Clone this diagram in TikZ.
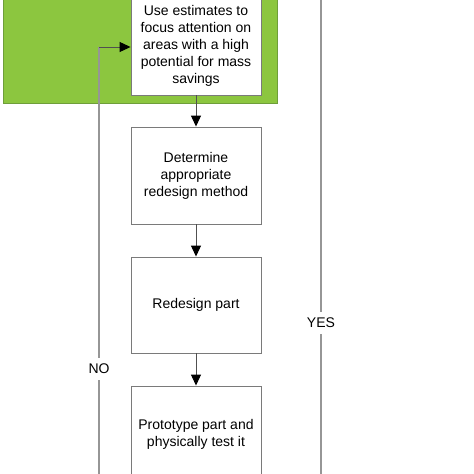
\documentclass[tikz,border=0pt]{standalone}
\usepackage{fontspec}
\setmainfont{Liberation Sans}
\usetikzlibrary{arrows.meta}
\definecolor{grn}{HTML}{8CC63F}
\definecolor{grnb}{HTML}{6E9E3A}
\definecolor{boxb}{HTML}{7A7A7A}
\definecolor{lin}{HTML}{505050}
\begin{document}
\begin{tikzpicture}[x=1pt,y=-1pt,
  stepbox/.style={draw=boxb,line width=0.9pt,fill=white,minimum width=130pt,align=center,inner sep=2pt,
    font=\fontsize{14}{17}\selectfont},
  conn/.style={draw=lin,line width=1pt,-{Triangle[length=11pt,width=10pt,fill=black,color=black]}},
  longline/.style={draw=lin!60,line width=1.2pt},
  lbl/.style={inner sep=0pt,minimum height=22pt,font=\fontsize{14}{17}\selectfont}]
\useasboundingbox (0,0) rectangle (474,474);
\fill[grn,draw=grnb,line width=0.9pt] (3,-20) rectangle (277,103);
\node[stepbox,minimum height=98pt] (b1) at (196,46) {Use estimates to\\focus attention on\\areas with a high\\potential for mass\\savings};
\node[stepbox,minimum height=97pt] (b2) at (196,175.5) {Determine\\appropriate\\redesign method};
\node[stepbox,minimum height=96pt] (b3) at (196,305) {Redesign part};
\node[stepbox,minimum height=97pt] (b4) at (196,434.5) {Prototype part and\\physically test it};
\draw[conn] (b1) -- (b2);
\draw[conn] (b2) -- (b3);
\draw[conn] (b3) -- (b4);
\coordinate (nobot) at (99,490);
\coordinate (nocorner) at (99,47);
\coordinate (ytop) at (321,-10);
\coordinate (ybot) at (321,490);
\node[lbl] (no) at (99,369) {NO};
\node[lbl] (yes) at (321,323) {YES};
\draw[longline] (nobot) -- (no);
\draw[longline] (no) -- (nocorner);
\draw[conn] (nocorner) -- (b1.west |- nocorner);
\draw[longline] (ytop) -- (yes);
\draw[longline] (yes) -- (ybot);
\end{tikzpicture}
\end{document}
